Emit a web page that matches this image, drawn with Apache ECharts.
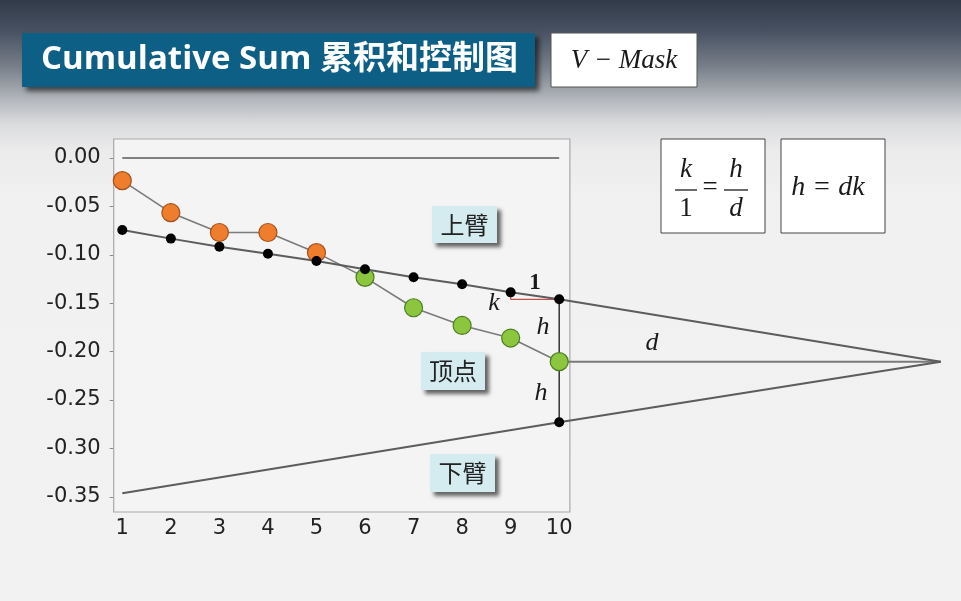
<!DOCTYPE html>
<html>
<head>
<meta charset="utf-8">
<script src="https://cdn.jsdelivr.net/npm/echarts@6/dist/echarts.min.js"></script>
<style>
html,body{margin:0;padding:0;}
body{width:961px;height:601px;overflow:hidden;
background:linear-gradient(180deg,#323b49 0px,#465060 30px,#7a818b 68px,#b4b8bd 100px,#dadbdd 124px,#ebebec 150px,#f1f1f1 200px,#f2f2f2 601px);}
#c{width:961px;height:601px;}
</style>
</head>
<body>
<div id="c"></div>
<script>
// ---- data ----
const xTicks = [1, 2, 3, 4, 5, 6, 7, 8, 9, 10];
const yTicks = [0, -0.05, -0.10, -0.15, -0.20, -0.25, -0.30, -0.35];
const cusum = [-0.0234, -0.0565, -0.0770, -0.0770, -0.0978, -0.1233, -0.1547, -0.1730, -0.1860, -0.2104];
const phase1Count = 5;
const upperArm = [-0.0744, -0.0833, -0.0916, -0.0990, -0.1064, -0.1150, -0.1233, -0.1305, -0.1388, -0.1460];
const vertex = [17.86, -0.2104];
const lowerArmX = [1, 10];
const lowerArm = [-0.3464, -0.2730];
const zeroLine = [[1, 0], [10, 0]];
const xRange = [0.823, 18.05];
const yRange = [-0.3657, 0.0196];
const boxRight = 10.22;

const chart = echarts.init(document.getElementById('c'));

const cusumData = cusum.map((v, i) => ({
  value: [xTicks[i], v],
  itemStyle: i < phase1Count
    ? {color: '#ef7d2e', borderColor: '#a4521c', borderWidth: 1.2}
    : {color: '#8cc63f', borderColor: '#4d7d22', borderWidth: 1.2}
}));
const upperData = upperArm.map((v, i) => [xTicks[i], v]).concat([{value: vertex, symbol: 'none'}]);
const lowerData = [{value: [lowerArmX[0], lowerArm[0]], symbol: 'none'}, [lowerArmX[1], lowerArm[1]], {value: vertex, symbol: 'none'}];
const last = xTicks.length - 1;
const vertLine = [[xTicks[last], upperArm[last]], [xTicks[last], lowerArm[1]]];
const dLine = [[xTicks[last], cusum[last]], [vertex[0], cusum[last]]];
const kLine = [[xTicks[last - 1], upperArm[last - 1]], [xTicks[last - 1], upperArm[last]], [xTicks[last], upperArm[last]]];

const mathFont = '"Liberation Serif", "DejaVu Serif", serif';
const cjkFont = '"Noto Sans CJK SC", sans-serif';

function labelBox(x, y, w, h, text) {
  return {
    type: 'group', x: x, y: y, z: 100, children: [
      {type: 'rect', z: 100, shape: {x: 0, y: 0, width: w, height: h},
       style: {fill: '#d4ecf0', shadowBlur: 4, shadowOffsetX: 4, shadowOffsetY: 4, shadowColor: 'rgba(0,0,0,0.6)'}},
      {type: 'text', z: 101, x: w / 2, y: h / 2,
       style: {text: text, font: '24px ' + cjkFont, fill: '#222', align: 'center', verticalAlign: 'middle'}}
    ]
  };
}
function mathText(x, y, text, size, italic, weight) {
  return {type: 'text', z: 100, x: x, y: y,
    style: {text: text, font: (italic ? 'italic ' : '') + (weight || 'normal') + ' ' + size + 'px ' + mathFont,
      fill: '#1a1a1a', align: 'center', verticalAlign: 'middle'}};
}

const option = {
  animation: false,
  backgroundColor: 'transparent',
  grid: {left: 113.7, top: 139, right: 961 - 950, bottom: 601 - 512, containLabel: false},
  xAxis: {
    type: 'value', min: xRange[0], max: xRange[1],
    axisLine: {show: false},
    splitLine: {show: false},
    axisTick: {show: true, customValues: xTicks, length: 4, lineStyle: {color: '#8a8a8a'}},
    axisLabel: {customValues: xTicks, margin: 6, fontSize: 21, color: '#222', fontFamily: '"DejaVu Sans", sans-serif'}
  },
  yAxis: {
    type: 'value', min: yRange[0], max: yRange[1],
    axisLine: {show: false},
    splitLine: {show: false},
    axisTick: {show: true, customValues: yTicks, length: 4, lineStyle: {color: '#8a8a8a'}},
    axisLabel: {customValues: yTicks, margin: 13, fontSize: 21, color: '#222', fontFamily: '"DejaVu Sans", sans-serif',
      formatter: v => (Math.abs(v) < 1e-9 ? 0 : v).toFixed(2)}
  },
  series: [
    {
      type: 'line', data: zeroLine, symbol: 'none', silent: true,
      lineStyle: {color: '#808080', width: 2},
      markArea: {silent: true,
        itemStyle: {color: '#f4f4f4', borderColor: '#a8a8a8', borderWidth: 1.2},
        data: [[{coord: [xRange[0], yRange[1]]}, {coord: [boxRight, yRange[0]]}]]}
    },
    {type: 'line', data: dLine, symbol: 'none', silent: true, lineStyle: {color: '#7a7a7a', width: 2}},
    {type: 'line', data: vertLine, symbol: 'none', silent: true, lineStyle: {color: '#333', width: 1.5}},
    {type: 'line', data: kLine, symbol: 'none', silent: true, lineStyle: {color: '#c0504d', width: 1.2}},
    {type: 'line', data: lowerData, symbol: 'circle', symbolSize: 10, silent: true,
      itemStyle: {color: '#000'}, lineStyle: {color: '#5c5c5c', width: 2}},
    {type: 'line', data: cusumData, symbol: 'circle', symbolSize: 18, silent: true,
      lineStyle: {color: '#7a7a7a', width: 1.6}},
    {type: 'line', data: upperData, symbol: 'circle', symbolSize: 10, silent: true,
      itemStyle: {color: '#000'}, lineStyle: {color: '#5c5c5c', width: 2}}
  ],
  graphic: [
    // title
    {type: 'rect', z: 100, shape: {x: 22, y: 33, width: 513, height: 54},
     style: {fill: '#0d5f86', shadowBlur: 5, shadowOffsetX: 4, shadowOffsetY: 4, shadowColor: 'rgba(0,0,0,0.6)'}},
    {type: 'text', z: 101, x: 41, y: 60,
     style: {text: 'Cumulative Sum 累积和控制图', font: 'bold 33px "Open Sans", "Noto Sans CJK SC", sans-serif',
       fill: '#ffffff', align: 'left', verticalAlign: 'middle'}},
    {type: 'rect', z: 100, shape: {x: 551, y: 33, width: 146, height: 54},
     style: {fill: '#ffffff', stroke: '#555', lineWidth: 1}},
    mathText(624, 61, 'V − Mask', 27, true),
    // formula boxes
    {type: 'rect', z: 100, shape: {x: 661, y: 139, width: 104, height: 94}, style: {fill: '#ffffff', stroke: '#444', lineWidth: 1}},
    {type: 'rect', z: 100, shape: {x: 781, y: 139, width: 104, height: 94}, style: {fill: '#ffffff', stroke: '#444', lineWidth: 1}},
    mathText(686, 170, 'k', 27, true),
    {type: 'line', z: 100, shape: {x1: 675, y1: 190, x2: 697, y2: 190}, style: {stroke: '#1a1a1a', lineWidth: 1.3}},
    mathText(686, 209, '1', 27, false),
    mathText(710, 188, '=', 27, false),
    mathText(736, 170, 'h', 27, true),
    {type: 'line', z: 100, shape: {x1: 724, y1: 190, x2: 748, y2: 190}, style: {stroke: '#1a1a1a', lineWidth: 1.3}},
    mathText(736, 209, 'd', 27, true),
    mathText(828, 188, 'h = dk', 28, true),
    // region labels
    labelBox(432, 206, 65, 37, '上臂'),
    labelBox(421, 352, 64, 38, '顶点'),
    labelBox(430, 454, 65, 38, '下臂'),
    // geometry annotations
    mathText(535, 283, '1', 23, false, 'bold'),
    mathText(494, 303, 'k', 26, true),
    mathText(543, 327, 'h', 26, true),
    mathText(541, 393, 'h', 26, true),
    mathText(652, 343, 'd', 26, true)
  ]
};
chart.setOption(option);
</script>
</body>
</html>
